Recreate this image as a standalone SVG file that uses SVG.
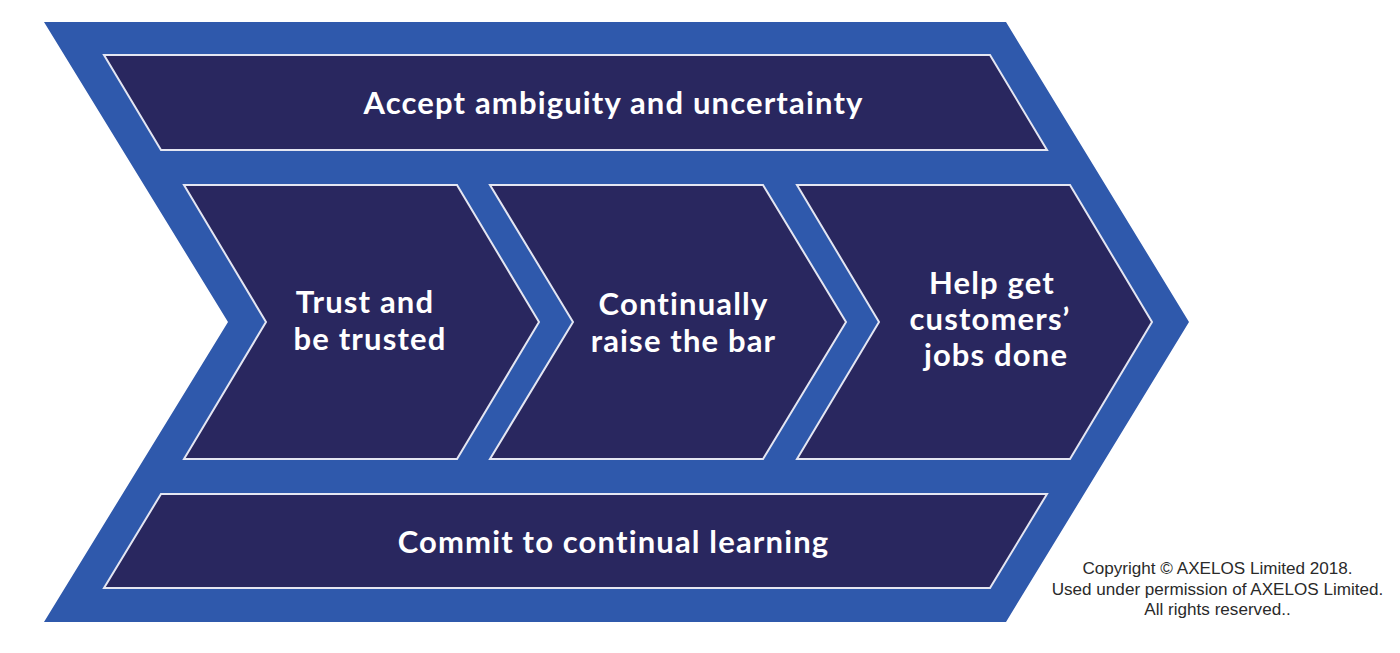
<svg xmlns="http://www.w3.org/2000/svg" width="1400" height="653" viewBox="0 0 1400 653">
<style>
.s{fill:#29275f;stroke:#e4e6f2;stroke-width:2;stroke-linejoin:miter}
.t{font-family:"Lato","Open Sans","Liberation Sans",sans-serif;font-weight:700;fill:#fff;font-size:31px;letter-spacing:1.15px;text-anchor:middle}
.c{font-family:"Liberation Sans",Arial,sans-serif;fill:#2a2a2a;font-size:17.1px;text-anchor:middle}
</style>
<rect width="1400" height="653" fill="#fff"/>
<g id="background"><polygon points="44,22 1006,22 1189,322 1006,622 44,622 228,322" fill="#2f59ac"/></g>
<g id="top-band"><polygon class="s" points="104,55 990,55 1047,150 161,150"/><text class="t" x="613.5" y="114">Accept ambiguity and uncertainty</text></g>
<g id="trust"><polygon class="s" points="184,185 457,185 539,322 457,459 184,459 266,322"/><text class="t" x="365" y="313">Trust and</text><text class="t" x="370" y="350">be trusted</text></g>
<g id="raise"><polygon class="s" points="490,185 763,185 846,322 763,459 490,459 573,322"/><text class="t" x="683.5" y="315">Continually</text><text class="t" x="683.5" y="352">raise the bar</text></g>
<g id="help"><polygon class="s" points="797,185 1070,185 1152,322 1070,459 797,459 879,322"/><text class="t" x="992" y="294">Help get</text><text class="t" x="990" y="330">customers’</text><text class="t" x="996" y="366">jobs done</text></g>
<g id="bottom-band"><polygon class="s" points="161,494 1047,494 990,588 104,588"/><text class="t" x="613.5" y="553">Commit to continual learning</text></g>
<g id="connectors"/>
<g id="copyright"><text class="c" x="1217.5" y="574">Copyright © AXELOS Limited 2018.</text><text class="c" x="1217.5" y="595">Used under permission of AXELOS Limited.</text><text class="c" x="1217.5" y="615">All rights reserved..</text></g>
</svg>
